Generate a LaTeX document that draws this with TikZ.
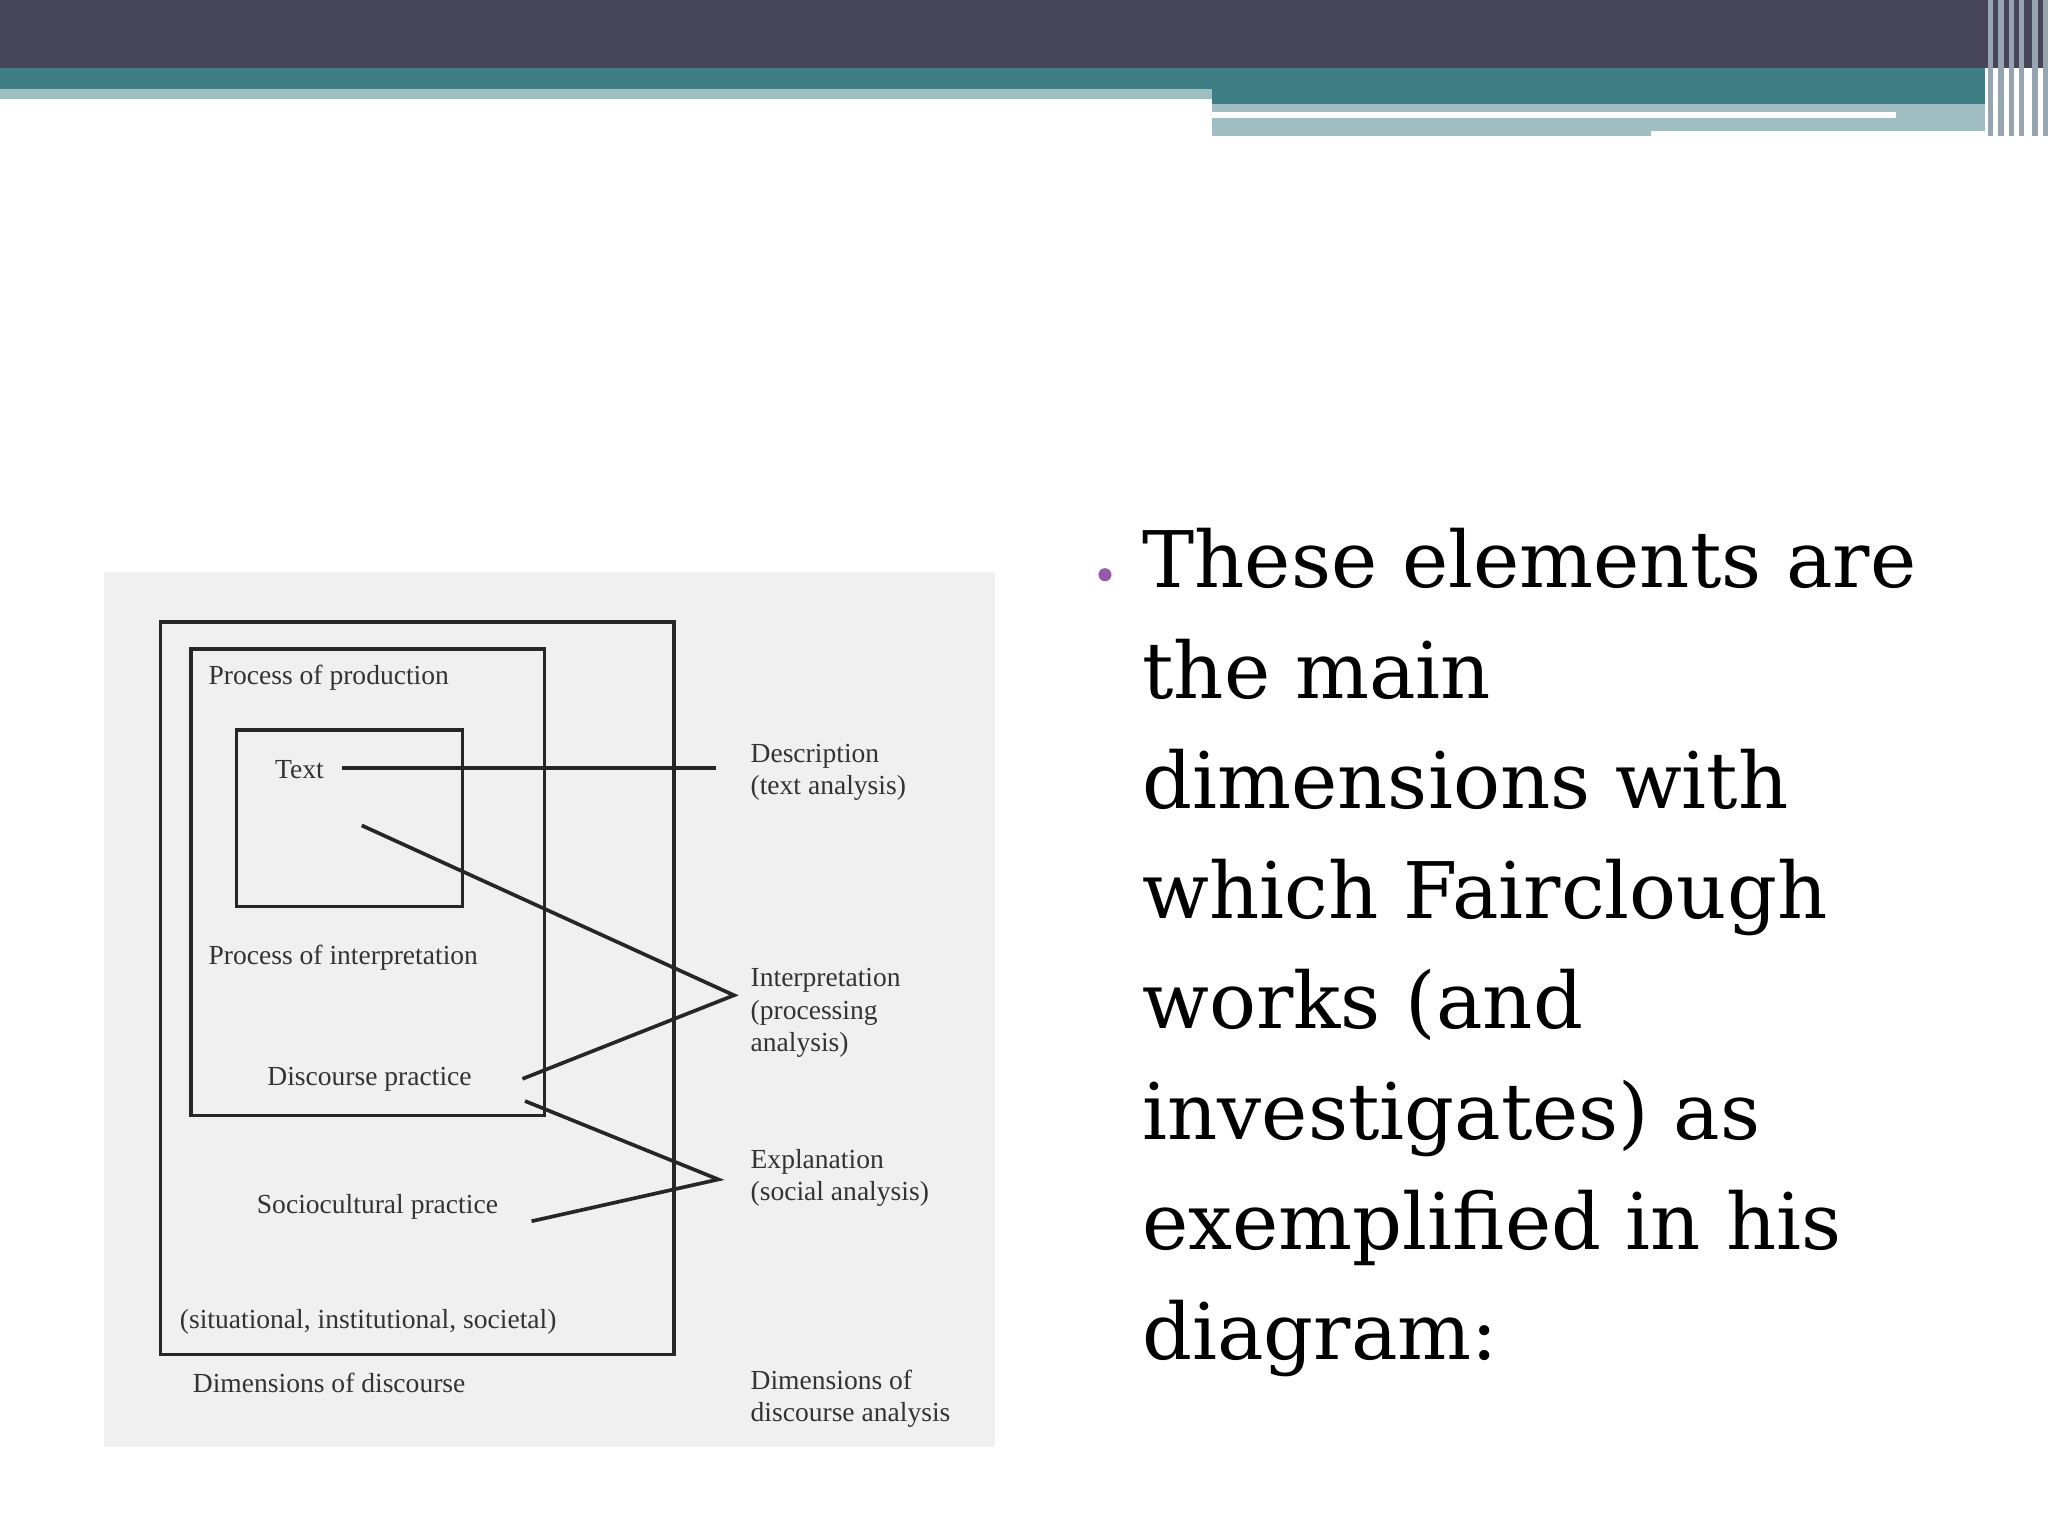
\documentclass[tikz,border=0pt]{standalone}
\usepackage{fontspec}
\setmainfont{Liberation Serif}
\newfontfamily\bodyfont{DejaVu Serif}
\begin{document}
\begin{tikzpicture}[x=0.01cm,y=-0.01cm,
  lab/.style={anchor=west,font=\fontsize{6}{7}\selectfont,inner sep=0pt,align=left,text=black!80},
  box/.style={draw=black!85,line width=0.8pt},
  ln/.style={draw=black!85,line width=0.8pt}]
\useasboundingbox (0,0) rectangle (1568,1176);
\fill[white] (0,0) rectangle (1568,1176);
% top bar
\fill[fill={rgb,255:red,70;green,69;blue,89}] (0,0) rectangle (1568,52);
\fill[fill={rgb,255:red,64;green,126;blue,134}] (0,52) rectangle (928,68);
\fill[fill={rgb,255:red,160;green,190;blue,194}] (0,68) rectangle (928,76);
\fill[fill={rgb,255:red,64;green,126;blue,134}] (928,52) rectangle (1520,80);
\fill[fill={rgb,255:red,160;green,190;blue,194}] (928,80) rectangle (1520,104);
\draw[white,line width=1.2pt] (928,88) -- (1452,88);
\draw[white,line width=1pt] (1264,102) -- (1520,102);
\foreach \x in {1522,1530,1538,1546,1556,1564}
  \fill[fill={rgb,255:red,150;green,165;blue,175}] (\x,0) rectangle (\x+4,104);
% diagram background
\fill[black!6] (80,438) rectangle (762,1108);
\draw[box] (123,476) rectangle (516,1037);
\draw[box] (146,497) rectangle (417,854);
\draw[box] (181,559) rectangle (354,694);
\node[lab] (pp) at (159,519) {Process of production};
\node[lab] (tx) at (210,589) {Text};
\node[lab] (pi) at (159,733) {Process of interpretation};
\node[lab] (dp) at (204,826) {Discourse practice};
\node[lab] (sp) at (196,924) {Sociocultural practice};
\node[lab] (sis) at (137,1012) {(situational, institutional, societal)};
\node[lab] (dd) at (147,1059) {Dimensions of discourse};
\node[lab,anchor=north west] (de) at (574,569) {Description\\(text analysis)};
\node[lab,anchor=north west] (ip) at (574,741) {Interpretation\\(processing\\analysis)};
\node[lab,anchor=north west] (ex) at (574,879) {Explanation\\(social analysis)};
\node[lab,anchor=north west] (dda) at (574,1048) {Dimensions of\\discourse analysis};
\coordinate (a1) at (262,588); \coordinate (a2) at (548,588);
\coordinate (b1) at (277,632); \coordinate (b2) at (562,762); \coordinate (b3) at (400,826);
\coordinate (c1) at (402,843); \coordinate (c2) at (550,903); \coordinate (c3) at (407,935);
\draw[ln] (a1) -- (a2);
\draw[ln] (b1) -- (b2) -- (b3);
\draw[ln] (c1) -- (c2) -- (c3);
% bullet text
\fill[fill={rgb,255:red,150;green,90;blue,170}] (846,440) circle (5);
\node[anchor=north west,inner sep=0pt,align=left,font=\bodyfont\fontsize{17}{24}\selectfont] (bt) at (874,404)
{These elements are\\the main\\dimensions with\\which Fairclough\\works (and\\investigates) as\\exemplified in his\\diagram:};
\end{tikzpicture}
\end{document}
